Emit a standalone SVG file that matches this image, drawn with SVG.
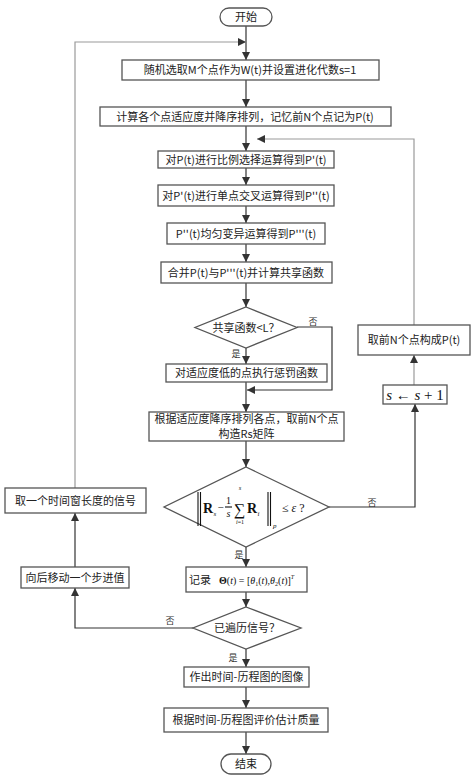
<svg xmlns="http://www.w3.org/2000/svg" width="474" height="779" viewBox="0 0 474 779">
<defs>
<marker id="ah" viewBox="0 0 10 10" refX="10" refY="5" markerWidth="8" markerHeight="8" markerUnits="userSpaceOnUse" orient="auto">
<path d="M0,0 L10,5 L0,10 z" fill="#333"/>
</marker>
</defs>
<style>
.box{fill:#fff;stroke:#555;stroke-width:1.3}
.t{font-family:"Noto Sans CJK SC","Liberation Sans",sans-serif;font-size:11px;fill:#222;text-anchor:middle}
.lab{font-family:"Noto Sans CJK SC","Liberation Serif",serif;font-size:9px;fill:#333;text-anchor:middle}
.m{font-family:"Liberation Serif",serif;fill:#111}
.c{fill:none;stroke:#333;stroke-width:1.2}
.g{fill:none;stroke:#9a9a9a;stroke-width:1.2}
</style>
<rect width="474" height="779" fill="#fff"/>

<g id="connectors">
<path class="c" d="M246,26 V60" marker-end="url(#ah)"/>
<path class="g" d="M75,488 V42 H246" marker-end="url(#ah)"/>
<path class="c" d="M246,80 V107" marker-end="url(#ah)"/>
<path class="c" d="M246,126 V151" marker-end="url(#ah)"/>
<path class="g" d="M414,325 V139 H257" marker-end="url(#ah)"/>
<path class="c" d="M246,168 V185" marker-end="url(#ah)"/>
<path class="c" d="M246,206 V223" marker-end="url(#ah)"/>
<path class="c" d="M246,244 V262" marker-end="url(#ah)"/>
<path class="c" d="M246,283 V307" marker-end="url(#ah)"/>
<path class="c" d="M246,348 V364" marker-end="url(#ah)"/>
<path class="c" d="M297,327 H332 V390 H247" marker-end="url(#ah)"/>
<path class="c" d="M246,382 V412" marker-end="url(#ah)"/>
<path class="c" d="M246,441 V467" marker-end="url(#ah)"/>
<path class="c" d="M329,507 H415 V404" marker-end="url(#ah)"/>
<path class="g" d="M414,385 V355" marker-end="url(#ah)"/>
<path class="c" d="M246,547 V567" marker-end="url(#ah)"/>
<path class="c" d="M246,592 V607" marker-end="url(#ah)"/>
<path class="c" d="M193,628 H75 V588" marker-end="url(#ah)"/>
<path class="c" d="M75,567 V513" marker-end="url(#ah)"/>
<path class="c" d="M246,649 V667" marker-end="url(#ah)"/>
<path class="c" d="M246,687 V708" marker-end="url(#ah)"/>
<path class="c" d="M246,732 V754" marker-end="url(#ah)"/>
<text class="lab" x="313" y="325">否</text>
<text class="lab" x="236" y="357">是</text>
<text class="lab" x="372" y="506">否</text>
<text class="lab" x="239" y="558">是</text>
<text class="lab" x="170" y="624">否</text>
<text class="lab" x="233" y="661">是</text>
</g>

<g id="start">
<rect class="box" x="220" y="8" width="52" height="18" rx="9"/>
<text class="t" x="246" y="21">开始</text>
</g>
<g id="init">
<rect class="box" x="122" y="60" width="257" height="20"/>
<text class="t" x="250" y="74">随机选取M个点作为W(t)并设置进化代数s=1</text>
</g>
<g id="fitness">
<rect class="box" x="100" y="107" width="291" height="19"/>
<text class="t" x="245" y="120.5">计算各个点适应度并降序排列，记忆前N个点记为P(t)</text>
</g>
<g id="select">
<rect class="box" x="158" y="151" width="176" height="17"/>
<text class="t" x="246" y="163.5">对P(t)进行比例选择运算得到P'(t)</text>
</g>
<g id="cross">
<rect class="box" x="158" y="185" width="176" height="21"/>
<text class="t" x="246" y="199.5">对P'(t)进行单点交叉运算得到P''(t)</text>
</g>
<g id="mutate">
<rect class="box" x="167" y="223" width="158" height="21"/>
<text class="t" x="246" y="237.5">P''(t)均匀变异运算得到P'''(t)</text>
</g>
<g id="merge">
<rect class="box" x="161" y="262" width="171" height="21"/>
<text class="t" x="246" y="276.5">合并P(t)与P'''(t)并计算共享函数</text>
</g>
<g id="share">
<polygon class="box" points="246,307 297,327.5 246,348 195,327.5"/>
<text class="t" x="246" y="331.5">共享函数&lt;L？</text>
</g>
<g id="penalty">
<rect class="box" x="166" y="364" width="161" height="18"/>
<text class="t" x="246.5" y="377">对适应度低的点执行惩罚函数</text>
</g>
<g id="rs">
<rect class="box" x="149" y="412" width="195" height="29"/>
<text class="t" x="246.5" y="422.5" font-size="10.5">根据适应度降序排列各点，取前N个点</text>
<text class="t" x="246.5" y="437.5" font-size="10.5">构造Rs矩阵</text>
</g>
<g id="converge">
<polygon class="box" points="246,467 329,507 246,547 164,507"/>
<g stroke="#111" stroke-width="1.1">
<line x1="198" y1="492" x2="198" y2="526"/>
<line x1="200.5" y1="492" x2="200.5" y2="526"/>
<line x1="268" y1="492" x2="268" y2="526"/>
<line x1="270.5" y1="492" x2="270.5" y2="526"/>
<line x1="225" y1="507" x2="232" y2="507"/>
</g>
<text class="m" x="203" y="513" font-size="14" font-weight="bold">R</text>
<text class="m" x="213.5" y="516" font-size="7" font-style="italic">s</text>
<text class="m" x="217.5" y="511" font-size="11">−</text>
<text class="m" x="228.5" y="504" font-size="10" text-anchor="middle">1</text>
<text class="m" x="228.5" y="517" font-size="10" font-style="italic" text-anchor="middle">s</text>
<text class="m" x="234" y="515" font-size="16">∑</text>
<text class="m" x="240" y="490" font-size="6.5" font-style="italic" text-anchor="middle">s</text>
<text class="m" x="240" y="524" font-size="6" text-anchor="middle"><tspan font-style="italic">i</tspan>=1</text>
<text class="m" x="247" y="513" font-size="14" font-weight="bold">R</text>
<text class="m" x="257.5" y="516" font-size="7" font-style="italic">i</text>
<text class="m" x="273" y="528" font-size="7" font-style="italic">p</text>
<text class="m" x="282" y="512" font-size="12">≤ <tspan font-style="italic">ε</tspan>  ?</text>
</g>
<g id="record">
<rect class="box" x="186" y="567" width="121" height="25"/>
<text class="t" x="200" y="583.5">记录</text>
<text class="m" x="219" y="584" font-size="10"><tspan font-weight="bold">Θ</tspan>(<tspan font-style="italic">t</tspan>) = [<tspan font-style="italic">θ</tspan><tspan font-size="6" dy="2">1</tspan><tspan dy="-2">(</tspan><tspan font-style="italic">t</tspan>),<tspan font-style="italic">θ</tspan><tspan font-size="6" dy="2">2</tspan><tspan dy="-2">(</tspan><tspan font-style="italic">t</tspan>)]<tspan font-size="6" font-style="italic" dy="-5">T</tspan></text>
</g>
<g id="traversed">
<polygon class="box" points="246,607 301,628 246,649 193,628"/>
<text class="t" x="247" y="632">已遍历信号？</text>
</g>
<g id="plot">
<rect class="box" x="184" y="667" width="125" height="20"/>
<text class="t" x="246.5" y="681">作出时间-历程图的图像</text>
</g>
<g id="evaluate">
<rect class="box" x="164" y="708" width="164" height="24"/>
<text class="t" x="246" y="724">根据时间-历程图评价估计质量</text>
</g>
<g id="end">
<rect class="box" x="221" y="754" width="50" height="20" rx="10"/>
<text class="t" x="246" y="768">结束</text>
</g>
<g id="takeN">
<rect class="box" x="358" y="325" width="112" height="30"/>
<text class="t" x="414" y="344">取前N个点构成P(t)</text>
</g>
<g id="incr">
<rect class="box" x="383" y="385" width="64" height="19"/>
<text class="m" x="415" y="400" font-size="15" text-anchor="middle"><tspan font-style="italic">s</tspan> ← <tspan font-style="italic">s</tspan> + 1</text>
</g>
<g id="window">
<rect class="box" x="5" y="488" width="141" height="25"/>
<text class="t" x="75.5" y="504.5">取一个时间窗长度的信号</text>
</g>
<g id="shift">
<rect class="box" x="21" y="567" width="108" height="21"/>
<text class="t" x="75" y="581.5">向后移动一个步进值</text>
</g>
</svg>
